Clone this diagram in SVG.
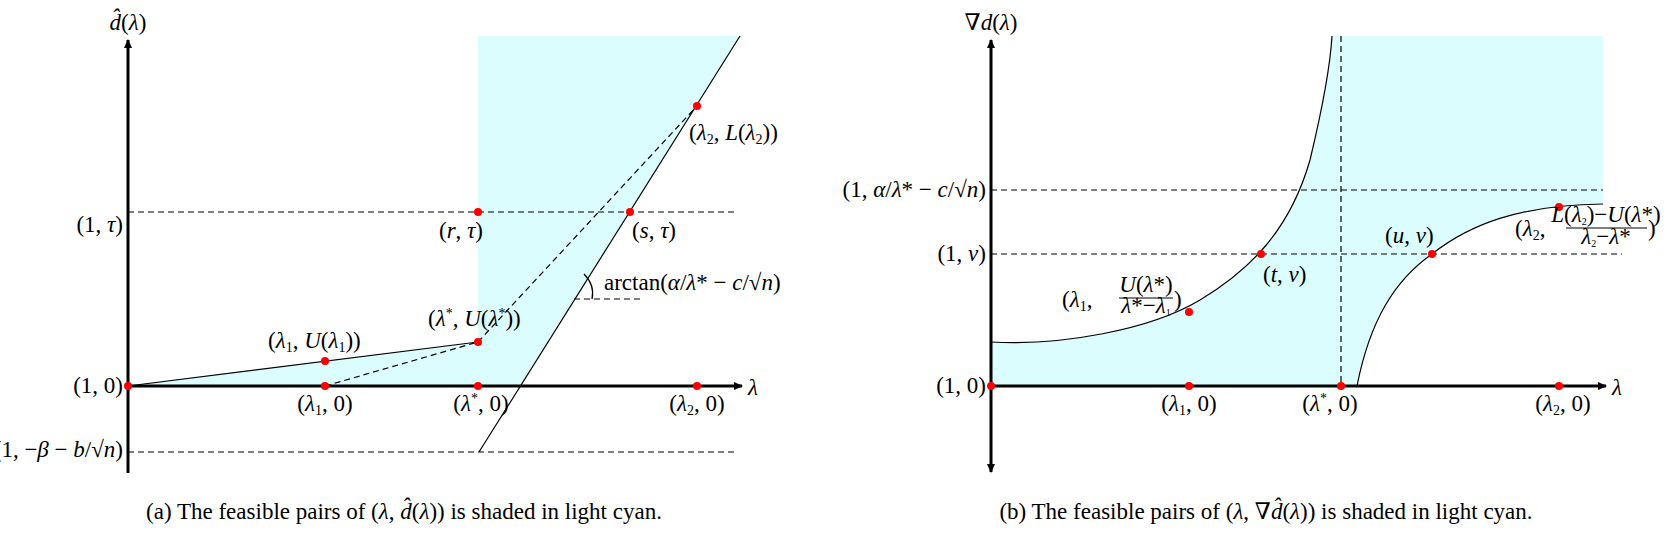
<svg xmlns="http://www.w3.org/2000/svg" width="1675" height="535" viewBox="0 0 1675 535">
<style>
text{font-family:"Liberation Serif","DejaVu Serif",serif;font-size:23px;fill:#000}
.ax{stroke:#000;stroke-width:3;fill:none}
.ln{stroke:#000;stroke-width:1.2;fill:none}
.da{stroke:#000;stroke-width:1.2;fill:none;stroke-dasharray:6 4}
.pt{fill:#ff0000}
.cy{fill:#dcfdfd}
</style>
<defs>
<marker id="ar" markerWidth="10" markerHeight="10" refX="8" refY="5" orient="auto" markerUnits="userSpaceOnUse">
<path d="M0,1 L9,5 L0,9 Z" fill="#000"/>
</marker>
</defs>
<rect width="1675" height="535" fill="#fff"/>
<g id="shading">
<polygon class="cy" points="128,386 478,342 478,36 740,36 520,386"/>
<path class="cy" d="M991,386 L991,342 C1060,346 1150,330 1200,300 C1250,270 1290,230 1310,160 C1322,110 1330,70 1332,36 L1603,36 L1603,204 C1520,205 1470,224 1432,254 C1395,280 1370,320 1357,386 Z"/>
</g>
<g id="connectors">
<line class="da" x1="128" y1="212" x2="737" y2="212"/>
<line class="da" x1="128" y1="452" x2="737" y2="452"/>
<line class="da" x1="325" y1="386" x2="478" y2="342"/>
<line class="da" x1="478" y1="342" x2="697" y2="106"/>
<line class="ln" x1="128" y1="386" x2="478" y2="342"/>
<line class="ln" x1="479" y1="452" x2="740" y2="36"/>
<line class="da" x1="574" y1="299" x2="644" y2="299"/>
<path class="ln" d="M584,274 Q595,285 592,299" stroke-width="1.5"/>
<line class="ax" x1="128" y1="473" x2="128" y2="40" marker-end="url(#ar)"/>
<line class="ax" x1="128" y1="386" x2="742" y2="386" marker-end="url(#ar)"/>
<line class="da" x1="991" y1="190" x2="1603" y2="190"/>
<line class="da" x1="991" y1="254" x2="1622" y2="254"/>
<line class="da" x1="1341" y1="36" x2="1341" y2="386"/>
<path class="ln" d="M991,342 C1060,346 1150,330 1200,300 C1250,270 1290,230 1310,160 C1322,110 1330,70 1332,36"/>
<path class="ln" d="M1357,386 C1370,320 1395,280 1432,254 C1470,224 1520,205 1603,204"/>
<line class="ax" x1="991" y1="386" x2="991" y2="40" marker-end="url(#ar)"/>
<line class="ax" x1="991" y1="386" x2="991" y2="472" marker-end="url(#ar)"/>
<line class="ax" x1="991" y1="386" x2="1606" y2="386" marker-end="url(#ar)"/>
</g>
<g id="points">
<circle class="pt" cx="128" cy="386" r="4"/><circle class="pt" cx="325" cy="361" r="4"/><circle class="pt" cx="325" cy="386" r="4"/>
<circle class="pt" cx="478" cy="342" r="4"/><circle class="pt" cx="478" cy="386" r="4"/><circle class="pt" cx="478" cy="212" r="4"/>
<circle class="pt" cx="630" cy="212" r="4"/><circle class="pt" cx="697" cy="106" r="4"/><circle class="pt" cx="697" cy="386" r="4"/>
<circle class="pt" cx="991" cy="386" r="4"/><circle class="pt" cx="1189" cy="386" r="4"/><circle class="pt" cx="1341" cy="386" r="4"/>
<circle class="pt" cx="1559" cy="386" r="4"/><circle class="pt" cx="1189" cy="312" r="4"/><circle class="pt" cx="1261" cy="254" r="4"/>
<circle class="pt" cx="1432" cy="254" r="4"/><circle class="pt" cx="1559" cy="207" r="4"/>
</g>
<g id="labels-a">
<text x="128" y="30" text-anchor="middle"><tspan font-style="italic">d̂</tspan>(<tspan font-style="italic">λ</tspan>)</text>
<text x="748" y="395" font-style="italic">λ</text>
<text x="123" y="232" text-anchor="end">(1, <tspan font-style="italic">τ</tspan>)</text>
<text x="123" y="393" text-anchor="end">(1, 0)</text>
<text x="123" y="457" text-anchor="end" font-size="14">(1, −<tspan font-style="italic">β</tspan> − <tspan font-style="italic">b</tspan>/√<tspan font-style="italic">n</tspan>)</text>
<text x="325" y="411" text-anchor="middle">(<tspan font-style="italic">λ</tspan><tspan font-size="14" dy="4">1</tspan><tspan dy="-4">, 0)</tspan></text>
<text x="481" y="411" text-anchor="middle">(<tspan font-style="italic">λ</tspan><tspan font-size="14" dy="-8">*</tspan><tspan dy="8">, 0)</tspan></text>
<text x="697" y="411" text-anchor="middle">(<tspan font-style="italic">λ</tspan><tspan font-size="14" dy="4">2</tspan><tspan dy="-4">, 0)</tspan></text>
<text x="483" y="238" text-anchor="end">(<tspan font-style="italic">r</tspan>, <tspan font-style="italic">τ</tspan>)</text>
<text x="632" y="238">(<tspan font-style="italic">s</tspan>, <tspan font-style="italic">τ</tspan>)</text>
<text x="689" y="140">(<tspan font-style="italic">λ</tspan><tspan font-size="14" dy="4">2</tspan><tspan dy="-4">, </tspan><tspan font-style="italic">L</tspan>(<tspan font-style="italic">λ</tspan><tspan font-size="14" dy="4">2</tspan><tspan dy="-4">))</tspan></text>
<text x="604" y="290" font-size="17">arctan(<tspan font-style="italic">α</tspan>/<tspan font-style="italic">λ</tspan>* − <tspan font-style="italic">c</tspan>/√<tspan font-style="italic">n</tspan>)</text>
<text x="428" y="326">(<tspan font-style="italic">λ</tspan><tspan font-size="14" dy="-8">*</tspan><tspan dy="8">, </tspan><tspan font-style="italic">U</tspan>(<tspan font-style="italic">λ</tspan><tspan font-size="14" dy="-8">*</tspan><tspan dy="8">))</tspan></text>
<text x="268" y="348">(<tspan font-style="italic">λ</tspan><tspan font-size="14" dy="4">1</tspan><tspan dy="-4">, </tspan><tspan font-style="italic">U</tspan>(<tspan font-style="italic">λ</tspan><tspan font-size="14" dy="4">1</tspan><tspan dy="-4">))</tspan></text>
<text x="404" y="519" text-anchor="middle" font-size="22">(a) The feasible pairs of (<tspan font-style="italic">λ</tspan>, <tspan font-style="italic">d̂</tspan>(<tspan font-style="italic">λ</tspan>)) is shaded in light cyan.</text>
</g>
<g id="labels-b">
<text x="991" y="30" text-anchor="middle">∇<tspan font-style="italic">d</tspan>(<tspan font-style="italic">λ</tspan>)</text>
<text x="1612" y="395" font-style="italic">λ</text>
<text x="986" y="197" text-anchor="end">(1, <tspan font-style="italic">α</tspan>/<tspan font-style="italic">λ</tspan>* − <tspan font-style="italic">c</tspan>/√<tspan font-style="italic">n</tspan>)</text>
<text x="986" y="261" text-anchor="end">(1, <tspan font-style="italic">ν</tspan>)</text>
<text x="986" y="393" text-anchor="end">(1, 0)</text>
<text x="1189" y="411" text-anchor="middle">(<tspan font-style="italic">λ</tspan><tspan font-size="14" dy="4">1</tspan><tspan dy="-4">, 0)</tspan></text>
<text x="1330" y="411" text-anchor="middle">(<tspan font-style="italic">λ</tspan><tspan font-size="14" dy="-8">*</tspan><tspan dy="8">, 0)</tspan></text>
<text x="1563" y="411" text-anchor="middle">(<tspan font-style="italic">λ</tspan><tspan font-size="14" dy="4">2</tspan><tspan dy="-4">, 0)</tspan></text>
<text x="1263" y="282">(<tspan font-style="italic">t</tspan>, <tspan font-style="italic">ν</tspan>)</text>
<text x="1385" y="243">(<tspan font-style="italic">u</tspan>, <tspan font-style="italic">ν</tspan>)</text>
<text x="1062" y="307">(<tspan font-style="italic">λ</tspan><tspan font-size="14" dy="4">1</tspan><tspan dy="-4">,</tspan></text>
<text x="1146" y="292" font-size="14" text-anchor="middle"><tspan font-style="italic">U</tspan>(<tspan font-style="italic">λ</tspan>*)</text>
<line x1="1119" y1="298" x2="1173" y2="298" stroke="#000" stroke-width="1"/>
<text x="1146" y="313" font-size="14" text-anchor="middle"><tspan font-style="italic">λ</tspan>*−<tspan font-style="italic">λ</tspan><tspan font-size="10" dy="3">1</tspan></text>
<text x="1174" y="307">)</text>
<text x="1515" y="236">(<tspan font-style="italic">λ</tspan><tspan font-size="14" dy="4">2</tspan><tspan dy="-4">,</tspan></text>
<text x="1606" y="222" font-size="14" text-anchor="middle"><tspan font-style="italic">L</tspan>(<tspan font-style="italic">λ</tspan><tspan font-size="10" dy="3">2</tspan><tspan dy="-3">)−</tspan><tspan font-style="italic">U</tspan>(<tspan font-style="italic">λ</tspan>*)</text>
<line x1="1566" y1="228" x2="1647" y2="228" stroke="#000" stroke-width="1"/>
<text x="1606" y="244" font-size="14" text-anchor="middle"><tspan font-style="italic">λ</tspan><tspan font-size="10" dy="3">2</tspan><tspan dy="-3">−</tspan><tspan font-style="italic">λ</tspan>*</text>
<text x="1648" y="236">)</text>
<text x="1266" y="519" text-anchor="middle" font-size="22">(b) The feasible pairs of (<tspan font-style="italic">λ</tspan>, ∇<tspan font-style="italic">d̂</tspan>(<tspan font-style="italic">λ</tspan>)) is shaded in light cyan.</text>
</g>
</svg>
